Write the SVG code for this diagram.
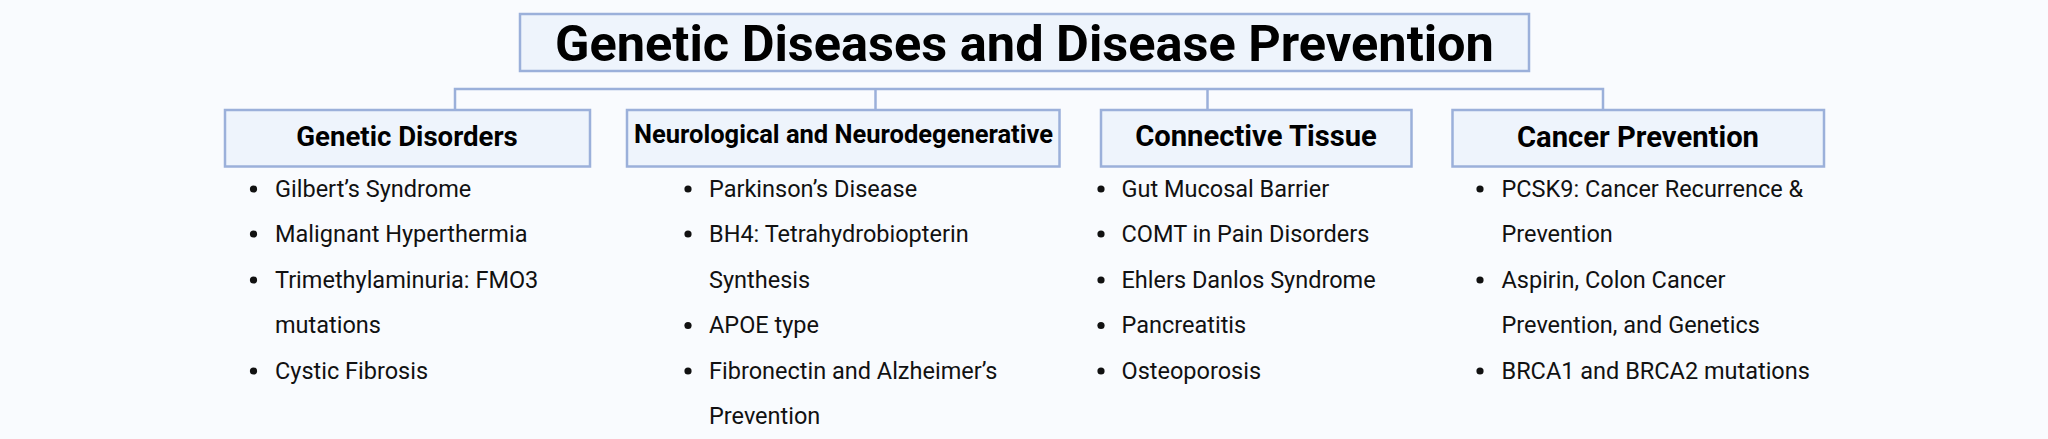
<svg xmlns="http://www.w3.org/2000/svg" width="2048" height="439" viewBox="0 0 2048 439">
<style>
.bg{fill:#F9FBFE}
.box{fill:#EEF4FC;stroke:#9BB0DA;stroke-width:2.5}
.conn{fill:none;stroke:#9BB0DA;stroke-width:2.5}
.title{font-family:Roboto,"Liberation Sans",sans-serif;font-weight:bold;font-size:50.5px;fill:#000;text-anchor:middle}
.head{font-family:Roboto,"Liberation Sans",sans-serif;font-weight:bold;font-size:27.6px;fill:#000;text-anchor:middle}
.item{font-family:Roboto,"Liberation Sans",sans-serif;font-size:23.5px;fill:#111}
.dot{fill:#111}
</style>
<rect class="bg" x="0" y="0" width="2048" height="439"/>
<g id="connectors">
<path class="conn" d="M455 110 V89 H1603 V110"/>
<path class="conn" d="M875.5 89 V110"/>
<path class="conn" d="M1207.5 89 V110"/>
</g>
<g id="title">
<rect class="box" x="520" y="14" width="1009" height="57"/>
<text class="title" x="1024.5" y="60.5">Genetic Diseases and Disease Prevention</text>
</g>
<g id="genetic-disorders">
<rect class="box" x="225" y="110" width="365" height="56.5"/>
<text class="head" x="407" y="146">Genetic Disorders</text>
<circle class="dot" cx="253.5" cy="189" r="3.6"/>
<text class="item" x="275" y="196.5">Gilbert’s Syndrome</text>
<circle class="dot" cx="253.5" cy="234" r="3.6"/>
<text class="item" x="275" y="242">Malignant Hyperthermia</text>
<circle class="dot" cx="253.5" cy="280" r="3.6"/>
<text class="item" x="275" y="287.5">Trimethylaminuria: FMO3</text>
<text class="item" x="275" y="333">mutations</text>
<circle class="dot" cx="253.5" cy="371" r="3.6"/>
<text class="item" x="275" y="378.5">Cystic Fibrosis</text>
</g>
<g id="neurological">
<rect class="box" x="627" y="110" width="432.5" height="56.5"/>
<text class="head" x="843.5" y="142.5" style="font-size:25.5px">Neurological and Neurodegenerative</text>
<circle class="dot" cx="688" cy="189" r="3.6"/>
<text class="item" x="709" y="196.5">Parkinson’s Disease</text>
<circle class="dot" cx="688" cy="234" r="3.6"/>
<text class="item" x="709" y="242">BH4: Tetrahydrobiopterin</text>
<text class="item" x="709" y="287.5">Synthesis</text>
<circle class="dot" cx="688" cy="325.5" r="3.6"/>
<text class="item" x="709" y="333">APOE type</text>
<circle class="dot" cx="688" cy="371" r="3.6"/>
<text class="item" x="709" y="378.5">Fibronectin and Alzheimer’s</text>
<text class="item" x="709" y="424">Prevention</text>
</g>
<g id="connective-tissue">
<rect class="box" x="1101" y="110" width="310.5" height="56.5"/>
<text class="head" x="1256" y="146" style="font-size:29.2px">Connective Tissue</text>
<circle class="dot" cx="1101" cy="189" r="3.6"/>
<text class="item" x="1121.5" y="196.5">Gut Mucosal Barrier</text>
<circle class="dot" cx="1101" cy="234" r="3.6"/>
<text class="item" x="1121.5" y="242">COMT in Pain Disorders</text>
<circle class="dot" cx="1101" cy="280" r="3.6"/>
<text class="item" x="1121.5" y="287.5">Ehlers Danlos Syndrome</text>
<circle class="dot" cx="1101" cy="325.5" r="3.6"/>
<text class="item" x="1121.5" y="333">Pancreatitis</text>
<circle class="dot" cx="1101" cy="371" r="3.6"/>
<text class="item" x="1121.5" y="378.5">Osteoporosis</text>
</g>
<g id="cancer-prevention">
<rect class="box" x="1452.5" y="110" width="371.5" height="56.5"/>
<text class="head" x="1638" y="146.5" style="font-size:29.2px">Cancer Prevention</text>
<circle class="dot" cx="1480" cy="189" r="3.6"/>
<text class="item" x="1501.5" y="196.5">PCSK9: Cancer Recurrence &amp;</text>
<text class="item" x="1501.5" y="242">Prevention</text>
<circle class="dot" cx="1480" cy="280" r="3.6"/>
<text class="item" x="1501.5" y="287.5">Aspirin, Colon Cancer</text>
<text class="item" x="1501.5" y="333">Prevention, and Genetics</text>
<circle class="dot" cx="1480" cy="371" r="3.6"/>
<text class="item" x="1501.5" y="378.5">BRCA1 and BRCA2 mutations</text>
</g>
</svg>
